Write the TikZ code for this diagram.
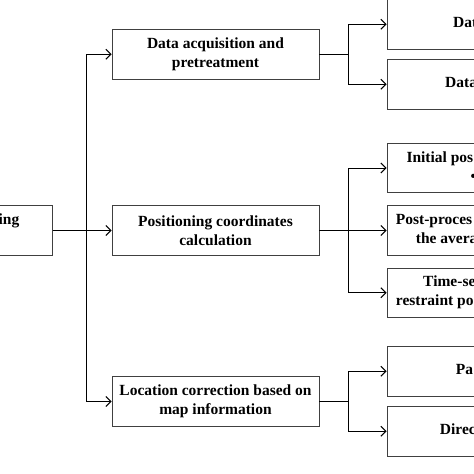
\documentclass[tikz,border=0pt]{standalone}
\usepackage{fontspec}
\setmainfont{Liberation Serif}
\usetikzlibrary{arrows.meta}
\begin{document}
\begin{tikzpicture}[x=1pt,y=-1pt,
  box/.style={draw=black!75, line width=0.9pt, minimum height=49.5pt, inner sep=0pt},
  mid/.style={box, minimum width=207pt, align=center, font=\fontsize{15.5}{19}\selectfont\bfseries},
  side/.style={box, minimum width=93pt},
  frag/.style={inner sep=0pt, text height=11pt, text depth=4pt, font=\fontsize{15.5}{19}\selectfont\bfseries},
  conn/.style={line width=1pt, black},
  arr/.style={conn, -{Straight Barb[length=5pt,width=10pt]}}]
\useasboundingbox (0,0) rectangle (474,474);
% left (cropped) root box
\node[box, minimum width=72pt] (L) at (16.3,230.5) {};
\node[frag, anchor=east] (Lt) at (19.5,221) {ing};
% middle boxes
\node[mid] (B1) at (215.5,54.2) {Data acquisition and\\pretreatment};
\node[mid] (B2) at (215.5,230.5) {Positioning coordinates\\calculation};
\node[mid] (B3) at (215.5,401.5) {Location correction based on\\map information};
% right (cropped) boxes
\node[side] (R1) at (433.5,24.3) {};
\node[side] (R2) at (433.5,84.2) {};
\node[side] (R3) at (433.5,168) {};
\node[side] (R4) at (433.5,230.5) {};
\node[side] (R5) at (433.5,292.8) {};
\node[side] (R6) at (433.5,371.2) {};
\node[side] (R7) at (433.5,431.2) {};
% right text fragments
\node[frag, anchor=west] (R1t) at (453,24.3) {Dat};
\node[frag, anchor=west] (R2t) at (445,84.2) {Data};
\node[frag, anchor=west] (R3a) at (406.3,158.5) {Initial pos};
\node[frag, anchor=west] (R3b) at (470.5,177.5) {•};
\node[frag, anchor=west] (R4a) at (395.7,221) {Post-proces};
\node[frag, anchor=west] (R4b) at (415.7,240) {the avera};
\node[frag, anchor=west] (R5a) at (423,283) {Time-se};
\node[frag, anchor=west] (R5b) at (395.7,302) {restraint po};
\node[frag, anchor=west] (R6t) at (455.7,371.2) {Pa};
\node[frag, anchor=west] (R7t) at (439.7,431.2) {Direc};
% trunk
\coordinate (T) at (86,230.5);
\draw[conn] (L.east) -- (T);
\draw[arr] (T) |- (B1.west);
\draw[arr] (T) -- (B2.west);
\draw[arr] (T) |- (B3.west);
% branches
\coordinate (J1) at (348,54.2);
\draw[conn] (B1.east) -- (J1);
\draw[arr] (J1) |- (R1.west);
\draw[arr] (J1) |- (R2.west);
\coordinate (J2) at (348,230.5);
\draw[conn] (B2.east) -- (J2);
\draw[arr] (J2) |- (R3.west);
\draw[arr] (J2) -- (R4.west);
\draw[arr] (J2) |- (R5.west);
\coordinate (J3) at (348,401.5);
\draw[conn] (B3.east) -- (J3);
\draw[arr] (J3) |- (R6.west);
\draw[arr] (J3) |- (R7.west);
\end{tikzpicture}
\end{document}
